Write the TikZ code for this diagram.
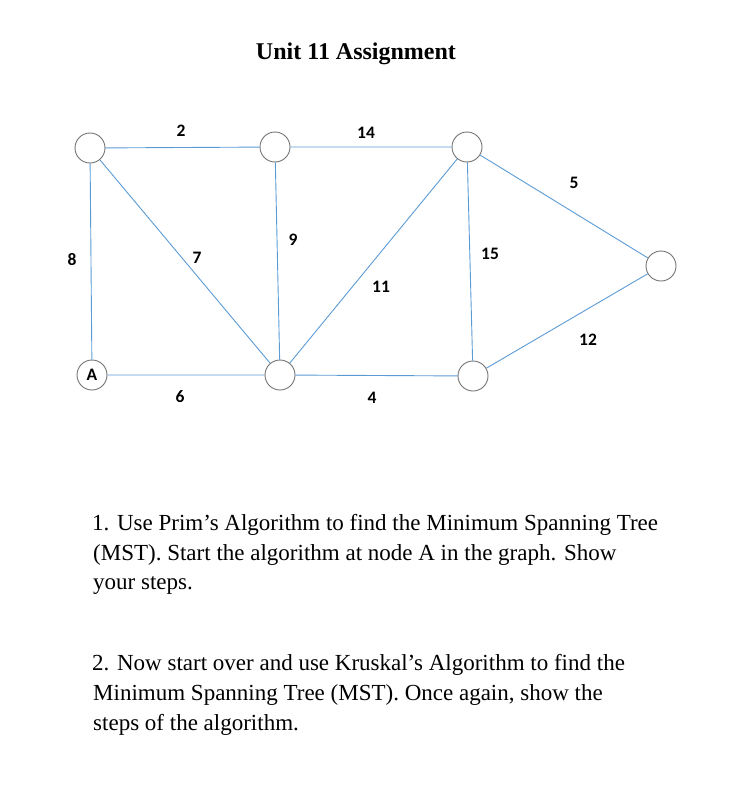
\documentclass[tikz,border=0pt]{standalone}
\usepackage{fontspec}
\setmainfont{Liberation Serif}
\newfontfamily\lbl{Carlito}
\begin{document}
\begin{tikzpicture}[x=1pt,y=-1pt,
  vtx/.style={circle,draw=black!55,line width=0.9pt,fill=white,minimum size=30pt,inner sep=0pt},
  edge/.style={draw={rgb,255:red,91;green,155;blue,213},line width=0.9pt},
  wt/.style={font=\lbl\bfseries\fontsize{17.5}{20}\selectfont},
  txt/.style={anchor=west,font=\fontsize{23}{26}\selectfont,inner sep=0pt}]
\useasboundingbox (0,0) rectangle (741,795);
\node[font=\bfseries\fontsize{24}{28}\selectfont] (title) at (356,54) {Unit 11 Assignment};
\node[vtx] (tl) at (90,148) {};
\node[vtx] (tm) at (275,147) {};
\node[vtx] (tr) at (467,147) {};
\node[vtx] (r) at (661,266) {};
\node[vtx] (a) at (92,375) {\lbl\bfseries\fontsize{17.5}{20}\selectfont A};
\node[vtx] (bm) at (280,375) {};
\node[vtx] (br) at (473,376) {};
\draw[edge] (tl)--(tm) (tm)--(tr) (tr)--(r) (tl)--(a) (tl)--(bm) (tm)--(bm) (tr)--(bm) (tr)--(br) (r)--(br) (a)--(bm) (bm)--(br);
\node[wt] (w2) at (181,131) {2};
\node[wt] (w14) at (366,133) {14};
\node[wt] (w5) at (574,183) {5};
\node[wt] (w9) at (293,240) {9};
\node[wt] (w8) at (72,260) {8};
\node[wt] (w7) at (197,258) {7};
\node[wt] (w15) at (490,254) {15};
\node[wt] (w11) at (381,287) {11};
\node[wt] (w12) at (588,340) {12};
\node[wt] (w6) at (180,397) {6};
\node[wt] (w4) at (372,398) {4};
\node[txt] (l1) at (92,525) {1. Use Prim’s Algorithm to find the Minimum Spanning Tree};
\node[txt] (l2) at (93,555) {(MST). Start the algorithm at node A in the graph. Show};
\node[txt] (l3) at (93,585) {your steps.};
\node[txt] (l4) at (92,665) {2. Now start over and use Kruskal’s Algorithm to find the};
\node[txt] (l5) at (93,695) {Minimum Spanning Tree (MST). Once again, show the};
\node[txt] (l6) at (93,725) {steps of the algorithm.};
\end{tikzpicture}
\end{document}
